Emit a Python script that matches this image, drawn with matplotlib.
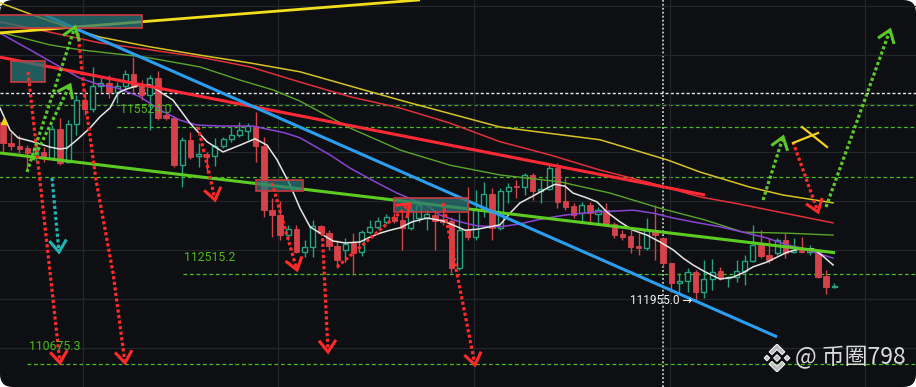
import numpy as np
import matplotlib
matplotlib.use("Agg")
import matplotlib.pyplot as plt
from matplotlib.patches import Rectangle, FancyBboxPatch, Polygon

# ---------------- data: candles (price) ----------------
opens = [115620,115190,115130,115090,114910,115010,114890,115480,114800,115580,
         116070,115890,116360,116420,116240,116360,116600,116360,116180,116520,
         115770,115710,114740,115250,114930,114970,114930,115130,115280,115360,
         115440,115540,115130,113820,113720,113310,113430,112960,113070,113500,
         113350,113090,113010,113150,112960,113370,113480,113580,113680,113620,
         113460,113660,113660,113720,113640,113600,112640,113410,113270,113820,
         114150,113460,114210,114310,114290,114540,114210,114250,114680,114010,
         113900,113760,113930,113740,113820,113540,113330,113290,113090,113050,
         113410,113250,112740,112330,112370,112560,112150,112410,112580,112430,
         112450,112580,112780,113110,112900,112940,113210,112960,113050,112960,
         113010,112470,112250]
highs = [115700,115420,115360,115150,115150,115110,115560,115700,115660,116180,
         116280,116750,116520,116580,116440,116690,116950,116480,116580,116670,
         115830,115750,115320,115420,115190,115010,115300,115320,115520,115620,
         115600,115830,115320,114070,114010,113520,113520,113210,113620,113520,
         113410,113210,113250,113350,113410,113620,113680,113740,113760,113780,
         113930,114030,113820,113820,113970,113680,113760,114290,114230,114400,
         114270,114270,114380,114440,114580,114580,114440,114740,114790,114480,
         113970,113990,113990,113880,113970,113580,113410,113480,113350,113660,
         113930,113270,112740,112540,112640,112600,112800,112820,112660,112470,
         112800,112900,113520,113410,113250,113250,113350,113250,113270,113110,
         113030,112600,112330]
lows = [114990,115050,114990,114640,114800,114800,114850,114740,114780,115360,
        115770,115830,116240,116110,116010,116280,116240,116070,115460,115660,
        115660,114700,114290,114870,114700,114580,114720,115090,115210,115320,
        115250,114800,113680,113270,113210,113210,112940,112860,112860,113310,
        113010,112640,112760,112500,112880,113330,113430,113540,113560,113010,
        113410,113580,113410,113010,113520,112540,112600,113210,113210,113680,
        113210,113410,113970,114070,114130,114030,113970,114230,113860,113820,
        113660,113580,113560,113520,113520,113250,113210,112940,112900,113010,
        112800,112660,112150,112130,112150,111955,112020,112190,112390,112250,
        112350,112290,112760,112840,112740,112900,112840,112940,112940,112900,
        112430,112110,112230]
closes = [115190,115130,115070,114990,115050,114910,115480,114780,115580,116070,
          115890,116360,116420,116240,116360,116600,116340,116180,116520,115710,
          115710,114740,115250,114910,114970,114910,115130,115280,115360,115460,
          115540,115130,113820,113720,113310,113430,112960,113070,113500,113350,
          113090,112800,113130,112940,113370,113480,113600,113680,113600,113460,
          113820,113930,113740,113600,113580,112640,113410,113270,113820,114150,
          113460,114210,114290,114290,114540,114210,114250,114680,113990,113880,
          113720,113930,113760,113820,113540,113310,113270,113070,113050,113410,
          113310,112740,112330,112370,112560,112150,112410,112560,112430,112450,
          112580,112780,113110,112880,112800,113210,112940,113010,112960,113010,
          112450,112250,112270]

# ---------------- moving averages (bar index, price) ----------------
ma_white_x = [-0.37,0.86,1.84,3.68,5.77,6.99,7.85,9.08,10.67,11.90,13.13,14.11,15.21,16.81,18.04,
              19.26,20.86,22.94,25.03,26.99,29.08,30.92,32.39,33.62,35.21,36.44,37.67,38.90,40.49,
              41.96,43.80,45.03,46.26,47.48,48.71,50.18,52.02,53.99,55.46,56.69,58.16,59.75,60.98,
              62.21,63.44,65.03,66.75,67.73,68.96,69.94,71.66,72.88,74.11,75.71,77.30,79.02,80.61,
              82.21,83.44,84.66,86.13,87.98,89.57,90.80,92.02,93.74,94.97,96.20,97.79,99.39,100.61,101.84]
ma_white_y = [115910,115460,115300,115220,115110,115070,115090,115260,115500,115730,115910,116220,
              116300,116380,116380,116240,116070,115600,115220,115010,115150,115280,115150,114850,
              114340,113860,113480,113350,113190,113150,113170,113270,113350,113410,113460,113580,
              113660,113600,113500,113410,113430,113480,113520,113760,113970,114110,114270,114350,
              114310,114170,114070,113990,113780,113580,113410,113310,113170,113010,112840,112700,
              112560,112410,112450,112540,112660,112760,112860,112960,113030,113030,112880,112700]

ma_purple_x = [-0.37,3.31,6.99,9.45,11.90,13.99,16.81,19.26,21.72,23.80,26.99,30.67,34.60,36.44,
               40.12,42.58,45.89,48.34,50.31,51.78,53.62,56.07,58.16,60.98,63.44,65.52,67.48,68.96,
               72.39,77.30,79.75,82.21,84.66,87.98,90.80,93.74,96.20,97.79,99.88,101.84]
ma_purple_y = [117440,117100,116750,116520,116380,116320,116140,115870,115660,115560,115540,115540,
               115400,115300,114950,114680,114380,114170,114030,113950,113720,113580,113500,113480,
               113540,113620,113680,113720,113780,113820,113760,113660,113580,113480,113370,113250,
               113110,113050,112940,112840]

ma_green_x = [-0.37,5.77,9.45,17.42,24.17,29.08,33.13,36.44,42.58,48.71,54.85,60.98,68.34,74.48,
              80.61,86.13,90.80,96.20,101.84]
ma_green_y = [117460,117200,117100,116950,116750,116480,116280,116050,115500,115050,114740,114540,
              114400,114170,113860,113620,113370,113350,113310]

ma_red_x = [-0.37,5.77,11.90,18.04,24.17,30.31,36.44,42.58,48.71,54.85,60.98,67.12,73.25,79.39,
            85.52,89.57,101.84]
ma_red_y = [117670,117460,117240,117100,116950,116750,116440,116140,115910,115600,115220,114950,
            114640,114380,114090,113970,113560]

ma_yellow_x = [-0.37,3.68,7.85,11.90,18.04,24.17,30.31,36.44,48.71,60.98,73.25,81.47,85.52,91.66,
               95.71,101.84]
ma_yellow_y = [118060,117810,117570,117360,117160,116990,116830,116650,116070,115520,115260,114850,
               114600,114290,114130,113970]

# ---------------- drawn trend lines (bar index, price) ----------------
trend_yellow = [(0, 117450), (50, 118105)]          # infinite line
trend_blue = [(5.15, 117810), (94.97, 111230)]
trend_red = [(-0.37, 116950), (86.13, 114130)]
trend_green = [(-0.37, 114990), (102.09, 112950)]

# horizontal levels
level_prices = [115970, 115524.0, 114500, 112515.2, 110675.3]
level_starts = [-1, 14.0, -1, 22.1, 2.9]
level_labels = [None, "115524.0", None, "112515.2", "110675.3"]
label_pos = [None, (14.4, 115870), None, (22.2, 112842), (3.2, 111022)]

# boxes: (x0, x1, p_low, p_high)
boxes = [(-1.0, 17.06, 117546, 117812),
         (0.98, 5.15, 116442, 116871),
         (31.04, 36.81, 114213, 114438),
         (47.98, 57.06, 113783, 114069)]

# dotted arrow paths (bar index, price), colour
arrows = [
    ([3.07, 6.99], [116646, 110695], 'red'),
    ([9.2, 10.06, 11.41, 13.50, 14.97], [117444, 116073, 114437, 112536, 110695], 'red'),
    ([23.93, 25.40, 26.01], [115521, 114499, 114028], 'red'),
    ([33.0, 36.07], [114376, 112597], 'red'),
    ([39.14, 39.88], [113476, 110920], 'red'),
    ([40.98, 49.94], [112658, 113946], 'red'),
    ([53.99, 57.91], [113967, 110656], 'red'),
    ([96.93, 100.0], [115215, 113783], 'red'),
    ([2.94, 8.83], [114601, 117566], 'green'),
    ([3.68, 8.22], [114846, 116380], 'green'),
    ([93.25, 95.71], [114028, 115317], 'green'),
    ([100.98, 108.83], [113885, 117505], 'green'),
    ([6.01, 6.87], [114478, 112965], 'teal'),
]
cross_lines = [([98.04, 101.1], [115521, 115112]), ([96.93, 100.0], [115194, 115398])]

grid_x = [9.8, 33.8, 57.8, 81.8, 105.8]
grid_y = [111000, 112000, 113000, 114000, 115000, 116000, 117000, 118000]
cross_x = 81.0
cross_y = 116217
last_low_label = "111955.0 →"
last_low_pos = (76.9, 111983)

# ---------------- style ----------------
BG = '#0d0f12'
RED = '#d6424a'
GREEN = '#27a37f'
COL = {'red': '#ff2a2a', 'green': '#5cc92a', 'teal': '#1fb5b5'}
XL = (-0.37, 112.02)
YL = (110204, 118118)

fig = plt.figure(figsize=(9.16, 3.87), dpi=100)
fig.patch.set_facecolor('white')
fig.patches.append(FancyBboxPatch((0, 0), 1, 1, boxstyle="round,pad=0,rounding_size=0.014",
                                  mutation_aspect=916/387, transform=fig.transFigure,
                                  facecolor=BG, edgecolor='none', zorder=-10))
ax = fig.add_axes([0, 0, 1, 1])
ax.set_facecolor('none')
ax.set_xlim(*XL)
ax.set_ylim(*YL)
for s in ax.spines.values():
    s.set_visible(False)
ax.set_xticks(grid_x)
ax.set_yticks(grid_y)
ax.tick_params(length=0, labelbottom=False, labelleft=False)
ax.grid(True, color='#23262b', lw=0.9, zorder=0)

# crosshair
ax.axvline(cross_x, color='#e8e8e8', lw=1.1, ls=(0, (1.2, 1.4)), zorder=1)
ax.axhline(cross_y, color='#e8e8e8', lw=1.0, ls=(0, (2.2, 1.6)), zorder=1)

# levels
for p, st in zip(level_prices, level_starts):
    ax.hlines(p, st, XL[1] + 1, color='#4cbf1c', lw=0.9, ls=(0, (3, 2.2)), zorder=1)
for lab, pos in zip(level_labels, label_pos):
    if lab:
        ax.text(pos[0], pos[1], lab, color='#4cb81c', fontsize=8.8, family=['Roboto', 'DejaVu Sans'],
                ha='left', va='center', zorder=8)

# candles
x = np.arange(len(opens))
o = np.array(opens, float); c = np.array(closes, float)
h = np.array(highs, float); l = np.array(lows, float)
up = c >= o
cols = np.where(up, GREEN, RED)
ax.vlines(x, l, h, colors=cols, lw=1.0, zorder=2)
bottom = np.minimum(o, c)
height = np.maximum(np.abs(c - o), 25)
ax.bar(x[~up], height[~up], bottom=bottom[~up], width=0.66, color=RED, edgecolor=RED, lw=0.6, zorder=3)
ax.bar(x[up], height[up], bottom=bottom[up], width=0.62, color=BG, edgecolor=GREEN, lw=1.0, zorder=3)

# moving averages
ax.plot(ma_yellow_x, ma_yellow_y, color='#d8c326', lw=1.1, zorder=4)
ax.plot(ma_red_x, ma_red_y, color='#e1313b', lw=1.1, zorder=4)
ax.plot(ma_green_x, ma_green_y, color='#5aa62a', lw=1.0, zorder=4)
ax.plot(ma_purple_x, ma_purple_y, color='#8b45d4', lw=1.1, zorder=4)
ax.plot(ma_white_x, ma_white_y, color='#e6e6e6', lw=1.1, zorder=4)

# trend lines
ax.axline(trend_yellow[0], trend_yellow[1], color='#f2de1c', lw=2.0, zorder=5)
for tl, col in [(trend_red, '#ff2a36'), (trend_green, '#5ccc22'), (trend_blue, '#2b9ef0')]:
    ax.plot([tl[0][0], tl[1][0]], [tl[0][1], tl[1][1]], color=col, lw=2.2, zorder=5,
            solid_capstyle='butt')

# boxes
for x0, x1, p0, p1 in boxes:
    ax.add_patch(Rectangle((x0, p0), x1 - x0, p1 - p0, facecolor='#2a7674', alpha=0.75,
                           edgecolor='none', zorder=6))
    ax.add_patch(Rectangle((x0, p0), x1 - x0, p1 - p0, facecolor='none',
                           edgecolor='#c93a42', lw=1.2, zorder=6))

# arrows
def vhead(p0, p1, color, size=13, ang=36, lw=2.2):
    t = ax.transData
    a = t.transform(p0); b = t.transform(p1)
    d = (a - b) / np.linalg.norm(a - b)
    pts = []
    for s in (1, -1):
        th = np.radians(ang * s)
        r = np.array([d[0] * np.cos(th) - d[1] * np.sin(th), d[0] * np.sin(th) + d[1] * np.cos(th)])
        pts.append(b + r * size)
    q = t.inverted().transform([pts[0], b, pts[1]])
    ax.plot(q[:, 0], q[:, 1], color=color, lw=lw, solid_joinstyle='miter', zorder=7)

for xs, ys, cname in arrows:
    col = COL[cname]
    ax.plot(xs, ys, color=col, lw=2.3, ls=(0, (1, 0.75)), dash_capstyle='butt', zorder=7)
    vhead((xs[-2], ys[-2]), (xs[-1], ys[-1]), col)

for xs, ys in cross_lines:
    ax.plot(xs, ys, color='#f2d21c', lw=1.6, zorder=7)

ax.plot([0.1], [115640], marker='^', color='#f2d21c', ms=4, zorder=8)

ax.text(last_low_pos[0], last_low_pos[1], last_low_label, color='#f2f2f2', fontsize=8.5,
        family=['Roboto', 'DejaVu Sans'], ha='left', va='center', zorder=8)

# watermark
fig.text(795/916, 1 - 358/387, '@ 币圈798', color='#ededed', fontsize=16.5,
         family=['Noto Sans CJK SC', 'DejaVu Sans'], ha='left', va='center', alpha=0.92)
lax = fig.add_axes([763/916, 1 - 372/387, 28/916, 28/387])
lax.set_xlim(-1, 1); lax.set_ylim(-1, 1); lax.set_axis_off()
def diamond(cx, cy, r):
    return [(cx, cy + r), (cx + r, cy), (cx, cy - r), (cx - r, cy)]
shapes = [diamond(0, 0, 0.24), diamond(-0.72, 0, 0.2), diamond(0.72, 0, 0.2),
          [(0, 1), (0.56, 0.44), (0.36, 0.24), (0, 0.6), (-0.36, 0.24), (-0.56, 0.44)],
          [(0, -1), (0.56, -0.44), (0.36, -0.24), (0, -0.6), (-0.36, -0.24), (-0.56, -0.44)]]
for sh in shapes:
    lax.add_patch(Polygon(sh, closed=True, facecolor='#cfcfcf', edgecolor='white', lw=0.8, alpha=0.9))

fig.savefig('out.png', dpi=100, facecolor=fig.get_facecolor())
